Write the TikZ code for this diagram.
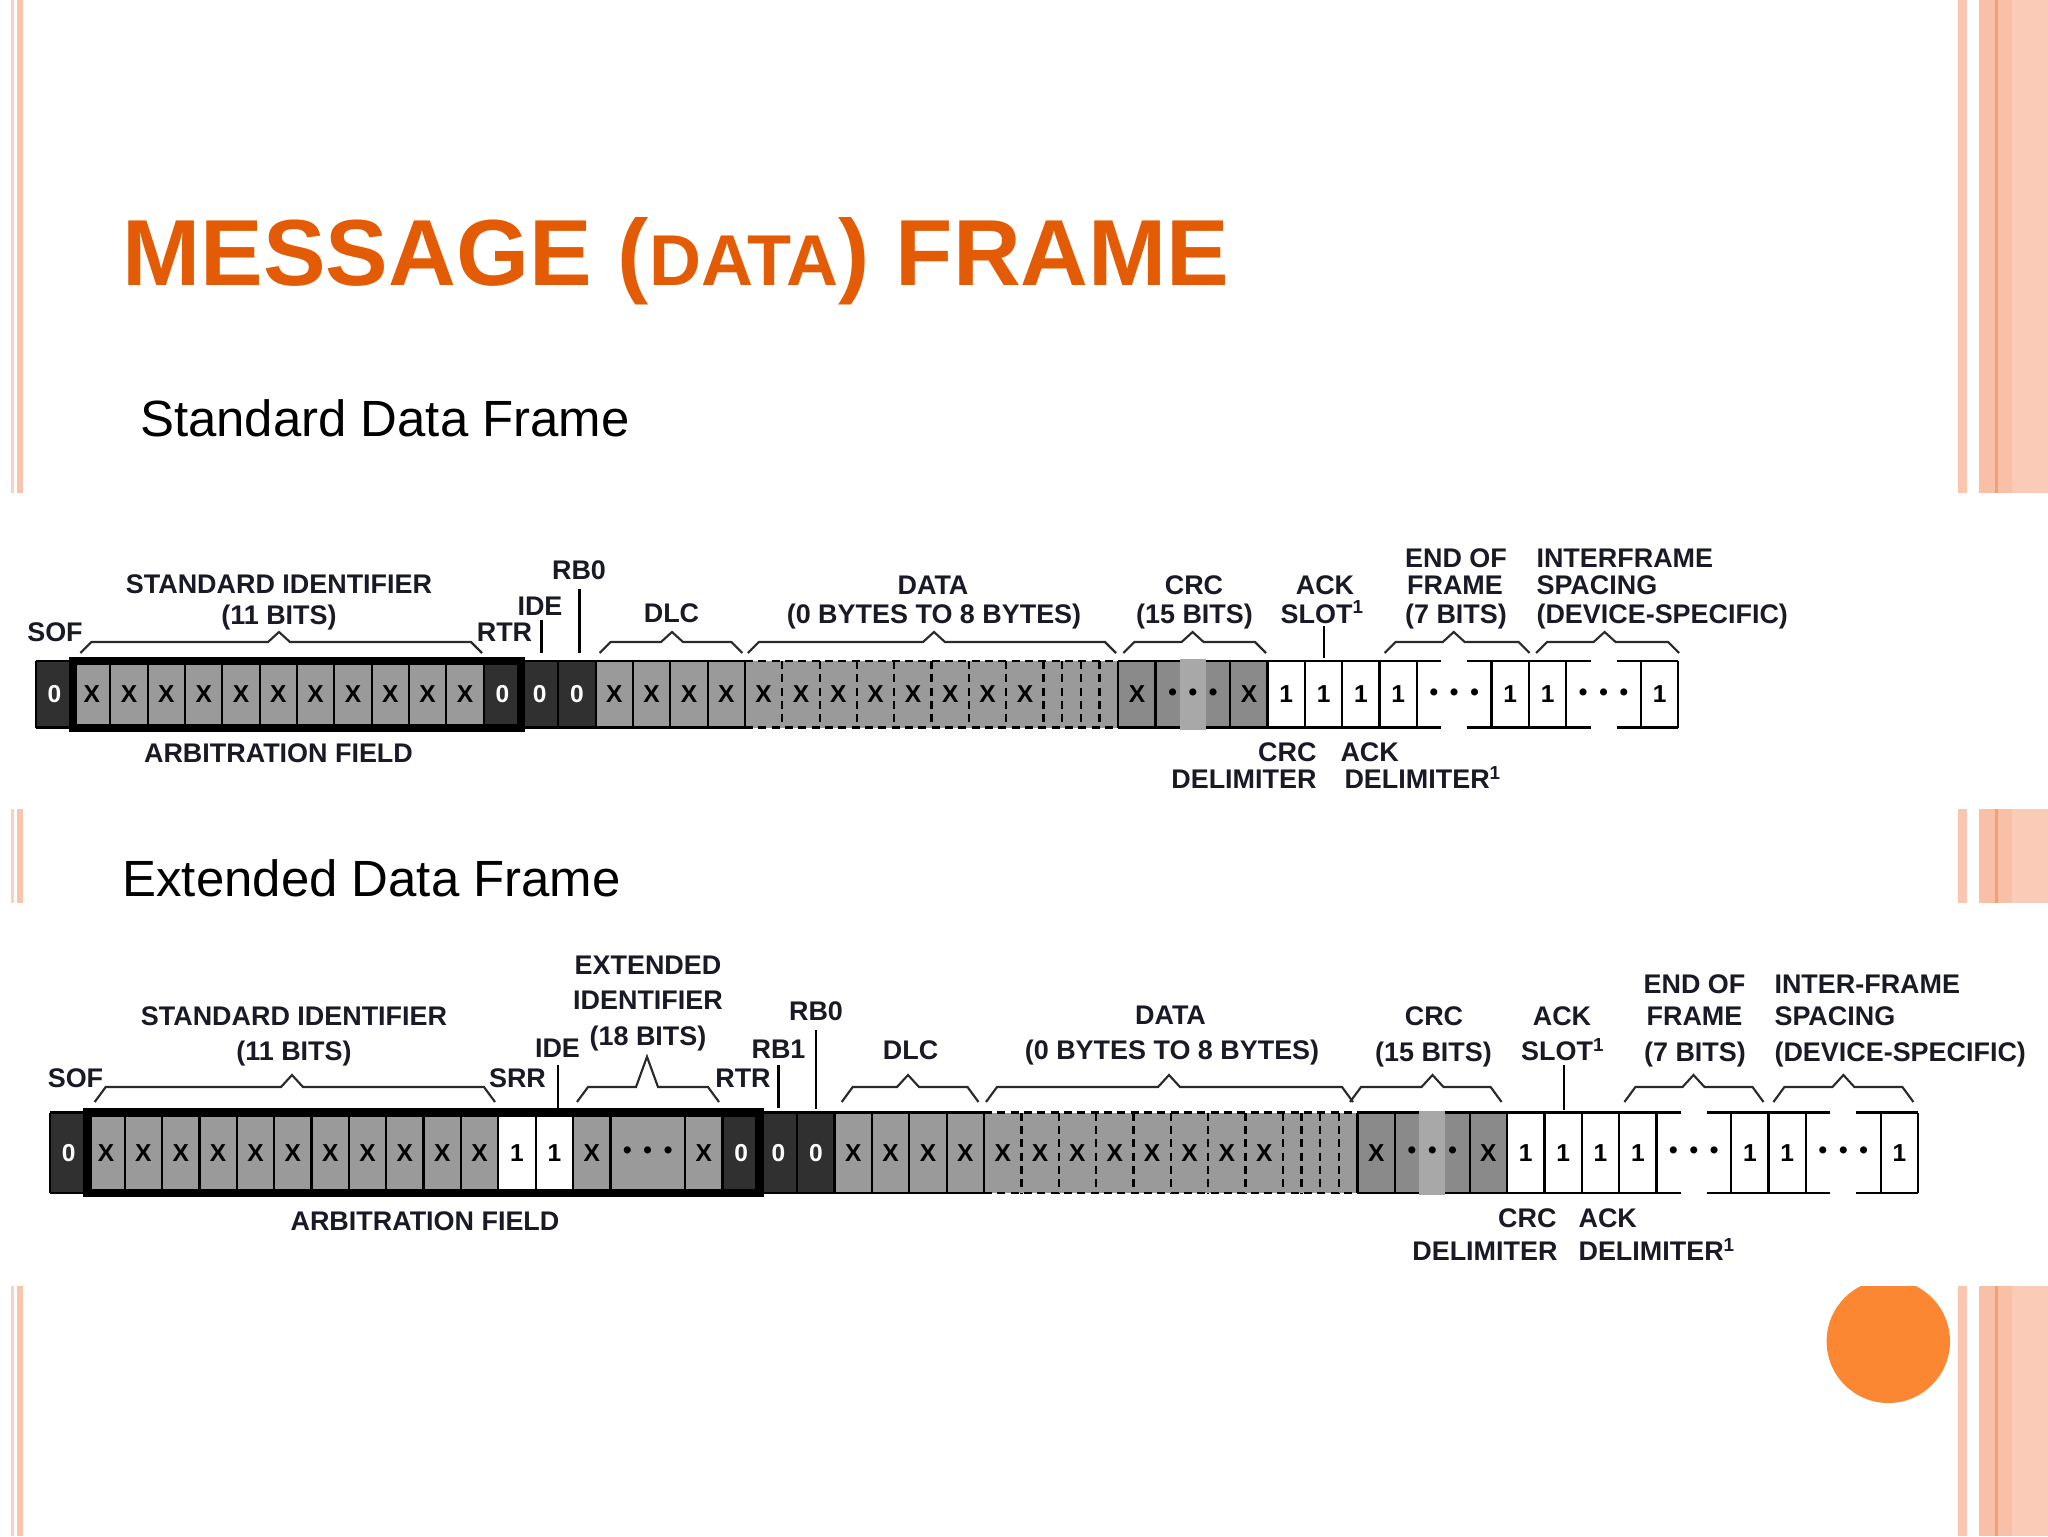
\documentclass[tikz,border=0pt]{standalone}
\usepackage{fontspec}
\setmainfont{Liberation Sans}
\definecolor{ttl}{HTML}{E35C05}
\definecolor{stripeL}{HTML}{FBD0C0}
\definecolor{stripeL2}{HTML}{F9C3AC}
\definecolor{stripeA}{HTML}{FAC6B0}
\definecolor{stripeB}{HTML}{F9C0A8}
\definecolor{stripeC}{HTML}{F4A070}
\definecolor{stripeD}{HTML}{FACBB7}
\definecolor{orng}{HTML}{FB8733}
\definecolor{dk}{HTML}{303030}
\definecolor{gy}{HTML}{9A9A9A}
\definecolor{gytwo}{HTML}{8A8A8A}
\definecolor{gylt}{HTML}{A8A8A8}
\definecolor{lblc}{HTML}{1A1A26}
\definecolor{brcc}{HTML}{2A2A2A}
\newcommand\bdots{•\hspace{4.4pt}•\hspace{4.4pt}•}
\newcommand\mybrace[6]{\draw[brc] (#1,#4) -- ({#1+11},#5) -- ({#3-11},#5) -- (#3,#6) -- ({#3+11},#5) -- ({#2-11},#5) -- (#2,#4);}
\begin{document}
\begin{tikzpicture}[x=0.375pt,y=-0.375pt,
  lbl/.style={font=\fontsize{10.1}{12}\selectfont\bfseries, text=lblc, inner sep=0pt, text height=7.3pt, text depth=0pt},
  bit/.style={font=\fontsize{9.2}{10}\selectfont\bfseries, inner sep=0pt},
  brc/.style={draw=brcc, line width=0.8pt, line join=miter},
  sep/.style={draw=black, line width=0.85pt},
  dsep/.style={sep, dash pattern=on 3pt off 2pt},
  frm/.style={draw=black, line width=3pt},
  ptr/.style={draw=black, line width=0.8pt}]
\useasboundingbox (0,0) rectangle (2048,1536);
\fill[white] (0,0) rectangle (2048,1536);
% decorative stripes
\foreach \ya/\yb in {0/493, 809/903, 1286/1536} {
  \fill[stripeL] (11,\ya) rectangle (14,\yb);
  \fill[stripeL2] (16.5,\ya) rectangle (23.2,\yb);
  \fill[stripeA] (1958,\ya) rectangle (1967,\yb);
  \fill[stripeB] (1979,\ya) rectangle (2048,\yb);
  \fill[stripeD] (2012,\ya) rectangle (2048,\yb);
  \fill[stripeC] (1995,\ya) rectangle (1998,\yb);
}
\begin{scope}
  \clip (1800,1286) rectangle (1960,1420);
  \fill[orng] (1888.3,1341.3) circle (61.7);
\end{scope}
% titles
\node[anchor=base west, inner sep=0pt, text=ttl, font=\fontsize{35.2}{40}\selectfont\bfseries] (title) at (122,285) {MESSAGE ({\fontsize{27}{30}\selectfont DATA}) FRAME};
\node[anchor=base west, inner sep=0pt, font=\fontsize{19.1}{22}\selectfont] (sub1) at (139.5,436) {Standard Data Frame};
\node[anchor=base west, inner sep=0pt, font=\fontsize{19.1}{22}\selectfont] (sub2) at (122,896.7) {Extended Data Frame};

% ================= STANDARD FRAME =================
\def\SX{35.7}\def\SW{37.33}\def\ST{661}\def\SB{727.5}
\fill[dk] (\SX,\ST) rectangle ({\SX+1*\SW},\SB);
\fill[gy] ({\SX+1*\SW},\ST) rectangle ({\SX+12*\SW},\SB);
\fill[dk] ({\SX+12*\SW},\ST) rectangle ({\SX+15*\SW},\SB);
\fill[gy] ({\SX+15*\SW},\ST) rectangle ({\SX+29*\SW},\SB);
\fill[gytwo] ({\SX+29*\SW},\ST) rectangle ({\SX+33*\SW},\SB);
\fill[gylt] ({\SX+31*\SW-13},{\ST-2}) rectangle ({\SX+31*\SW+13},{\SB+2});
\fill[white] ({\SX+33*\SW},\ST) rectangle ({\SX+44*\SW},\SB);
% verticals
\foreach \i in {0,...,19,29,30,32,33,34,35,36,37,39,40,41,43,44}
  \draw[sep] ({\SX+\i*\SW},\ST) -- ({\SX+\i*\SW},\SB);
\foreach \i in {20,...,27,27.5,28,28.5}
  \draw[dsep] ({\SX+\i*\SW},\ST) -- ({\SX+\i*\SW},\SB);
% top / bottom
\foreach \y in {\ST,\SB} {
  \draw[sep] (\SX,\y) -- ({\SX+19*\SW},\y);
  \draw[dsep] ({\SX+19*\SW},\y) -- ({\SX+29*\SW},\y);
  \draw[sep] ({\SX+29*\SW},\y) -- ({\SX+31*\SW-13},\y);
  \draw[sep] ({\SX+31*\SW+13},\y) -- ({\SX+38*\SW-13},\y);
  \draw[sep] ({\SX+38*\SW+13},\y) -- ({\SX+42*\SW-13},\y);
  \draw[sep] ({\SX+42*\SW+13},\y) -- ({\SX+44*\SW},\y);
}
\draw[frm] ({\SX+1*\SW},\ST) rectangle ({\SX+13*\SW},\SB);
% bit texts
\foreach \p/\t/\c [count=\k] in {0.5/0/white, 1.5/X/black, 2.5/X/black, 3.5/X/black, 4.5/X/black, 5.5/X/black, 6.5/X/black, 7.5/X/black, 8.5/X/black, 9.5/X/black, 10.5/X/black, 11.5/X/black, 12.5/0/white, 13.5/0/white, 14.5/0/white, 15.5/X/black, 16.5/X/black, 17.5/X/black, 18.5/X/black, 19.5/X/black, 20.5/X/black, 21.5/X/black, 22.5/X/black, 23.5/X/black, 24.5/X/black, 25.5/X/black, 26.5/X/black, 29.5/X/black, 31/\bdots/black, 32.5/X/black, 33.5/1/black, 34.5/1/black, 35.5/1/black, 36.5/1/black, 38/\bdots/black, 39.5/1/black, 40.5/1/black, 42/\bdots/black, 43.5/1/black}
  \node[bit, text=\c] (sb\k) at ({\SX+\p*\SW},694.3) {\t};
% braces
\mybrace{80.4}{482}{279}{653}{642}{632}
\mybrace{599.6}{742.4}{672}{653}{642}{632}
\mybrace{747.8}{1116}{934}{653}{642}{632}
\mybrace{1123.4}{1266}{1192.6}{653}{642}{632}
\mybrace{1384.5}{1529.6}{1453.75}{653}{642}{632}
\mybrace{1536}{1679}{1604.6}{653}{642}{632}
% labels
\node[lbl] (sSOF) at (55,632) {SOF};
\node[lbl] (sSID1) at (279,584) {STANDARD IDENTIFIER};
\node[lbl] (sSID2) at (279,614.5) {(11 BITS)};
\node[lbl] (sRTR) at (504.5,632) {RTR};
\node[lbl] (sIDE) at (540,605.5) {IDE};
\node[lbl] (sRB0) at (579,569.5) {RB0};
\node[lbl] (sDLC) at (671.5,613) {DLC};
\node[lbl] (sDAT1) at (933,584.5) {DATA};
\node[lbl] (sDAT2) at (934,614) {(0 BYTES TO 8 BYTES)};
\node[lbl] (sCRC1) at (1194,585) {CRC};
\node[lbl] (sCRC2) at (1194.5,613.5) {(15 BITS)};
\node[lbl] (sACK1) at (1325,585) {ACK};
\node[lbl] (sACK2) at (1322.5,613.5) {SLOT\textsuperscript{1}};
\node[lbl] (sEOF1) at (1456,557.5) {END OF};
\node[lbl] (sEOF2) at (1455,585) {FRAME};
\node[lbl] (sEOF3) at (1456,613.5) {(7 BITS)};
\node[lbl, anchor=west] (sIFS1) at (1536,557.5) {INTERFRAME};
\node[lbl, anchor=west] (sIFS2) at (1536,585) {SPACING};
\node[lbl, anchor=west] (sIFS3) at (1536,613.5) {(DEVICE-SPECIFIC)};
\node[lbl, anchor=east] (sCD1) at (1317,751.5) {CRC};
\node[lbl, anchor=east] (sCD2) at (1317,779) {DELIMITER};
\node[lbl, anchor=west] (sAD1) at (1340,751.5) {ACK};
\node[lbl, anchor=west] (sAD2) at (1344,779) {DELIMITER\textsuperscript{1}};
\node[lbl] (sARB) at (278.5,752.5) {ARBITRATION FIELD};
% pointers
\coordinate (psIDE) at (541.5,653);
\coordinate (psRB0) at (579.5,653);
\coordinate (psACK) at (1324,658);
\draw[ptr] (psIDE |- sIDE.south) ++(0,4) -- (psIDE);
\draw[ptr] (psRB0 |- sRB0.south) ++(0,9) -- (psRB0);
\draw[ptr] (psACK |- sACK2.south) ++(0,2) -- (psACK);

% ================= EXTENDED FRAME =================
\def\EX{50}\def\EW{37.36}\def\ET{1112.5}\def\EB{1193}
\fill[dk] (\EX,\ET) rectangle ({\EX+1*\EW},\EB);
\fill[gy] ({\EX+1*\EW},\ET) rectangle ({\EX+12*\EW},\EB);
\fill[white] ({\EX+12*\EW},\ET) rectangle ({\EX+14*\EW},\EB);
\fill[gy] ({\EX+14*\EW},\ET) rectangle ({\EX+18*\EW},\EB);
\fill[dk] ({\EX+18*\EW},\ET) rectangle ({\EX+21*\EW},\EB);
\fill[gy] ({\EX+21*\EW},\ET) rectangle ({\EX+35*\EW},\EB);
\fill[gytwo] ({\EX+35*\EW},\ET) rectangle ({\EX+39*\EW},\EB);
\fill[gylt] ({\EX+37*\EW-13},{\ET-2}) rectangle ({\EX+37*\EW+13},{\EB+2});
\fill[white] ({\EX+39*\EW},\ET) rectangle ({\EX+50*\EW},\EB);
\foreach \i in {0,...,15,17,18,...,25,35,36,38,39,40,41,42,43,45,46,47,49,50}
  \draw[sep] ({\EX+\i*\EW},\ET) -- ({\EX+\i*\EW},\EB);
\foreach \i in {26,...,33,33.5,34,34.5}
  \draw[dsep] ({\EX+\i*\EW},\ET) -- ({\EX+\i*\EW},\EB);
\foreach \y in {\ET,\EB} {
  \draw[sep] (\EX,\y) -- ({\EX+25*\EW},\y);
  \draw[dsep] ({\EX+25*\EW},\y) -- ({\EX+35*\EW},\y);
  \draw[sep] ({\EX+35*\EW},\y) -- ({\EX+37*\EW-13},\y);
  \draw[sep] ({\EX+37*\EW+13},\y) -- ({\EX+44*\EW-13},\y);
  \draw[sep] ({\EX+44*\EW+13},\y) -- ({\EX+48*\EW-13},\y);
  \draw[sep] ({\EX+48*\EW+13},\y) -- ({\EX+50*\EW},\y);
}
\draw[frm, line width=3.3pt] ({\EX+1*\EW},\ET) rectangle ({\EX+19*\EW},\EB);
\foreach \p/\t/\c [count=\k] in {0.5/0/white, 1.5/X/black, 2.5/X/black, 3.5/X/black, 4.5/X/black, 5.5/X/black, 6.5/X/black, 7.5/X/black, 8.5/X/black, 9.5/X/black, 10.5/X/black, 11.5/X/black, 12.5/1/black, 13.5/1/black, 14.5/X/black, 16/\bdots/black, 17.5/X/black, 18.5/0/white, 19.5/0/white, 20.5/0/white, 21.5/X/black, 22.5/X/black, 23.5/X/black, 24.5/X/black, 25.5/X/black, 26.5/X/black, 27.5/X/black, 28.5/X/black, 29.5/X/black, 30.5/X/black, 31.5/X/black, 32.5/X/black, 35.5/X/black, 37/\bdots/black, 38.5/X/black, 39.5/1/black, 40.5/1/black, 41.5/1/black, 42.5/1/black, 44/\bdots/black, 45.5/1/black, 46.5/1/black, 48/\bdots/black, 49.5/1/black}
  \node[bit, text=\c] (eb\k) at ({\EX+\p*\EW},1153) {\t};
% braces
\mybrace{94.7}{495}{292}{1102}{1087}{1075}
\mybrace{577}{719}{647}{1102}{1087}{1056.7}
\mybrace{841.7}{978.5}{908}{1102}{1087}{1075}
\mybrace{986}{1353}{1169}{1102}{1087}{1075}
\mybrace{1350}{1501.6}{1432.5}{1102}{1087}{1075}
\mybrace{1624.4}{1763.5}{1693.5}{1102}{1087}{1075}
\mybrace{1773.4}{1913.4}{1843.4}{1102}{1087}{1075}
% labels
\node[lbl] (eSOF) at (75.5,1078) {SOF};
\node[lbl] (eSID1) at (294,1016) {STANDARD IDENTIFIER};
\node[lbl] (eSID2) at (294,1051) {(11 BITS)};
\node[lbl] (eSRR) at (517.5,1077.5) {SRR};
\node[lbl] (eIDE) at (557.5,1047.5) {IDE};
\node[lbl] (eEXT1) at (648,965) {EXTENDED};
\node[lbl] (eEXT2) at (648,1000) {IDENTIFIER};
\node[lbl] (eEXT3) at (648,1035.5) {(18 BITS)};
\node[lbl] (eRTR) at (743,1077.5) {RTR};
\node[lbl] (eRB1) at (778.5,1049) {RB1};
\node[lbl] (eRB0) at (816,1011) {RB0};
\node[lbl] (eDLC) at (910.6,1050) {DLC};
\node[lbl] (eDAT1) at (1170.5,1015) {DATA};
\node[lbl] (eDAT2) at (1172,1050) {(0 BYTES TO 8 BYTES)};
\node[lbl] (eCRC1) at (1434,1016) {CRC};
\node[lbl] (eCRC2) at (1433.5,1052) {(15 BITS)};
\node[lbl] (eACK1) at (1562,1016) {ACK};
\node[lbl] (eACK2) at (1563,1051) {SLOT\textsuperscript{1}};
\node[lbl] (eEOF1) at (1694.5,984) {END OF};
\node[lbl] (eEOF2) at (1694.5,1015.5) {FRAME};
\node[lbl] (eEOF3) at (1695,1052) {(7 BITS)};
\node[lbl, anchor=west] (eIFS1) at (1774,984) {INTER-FRAME};
\node[lbl, anchor=west] (eIFS2) at (1774,1015.5) {SPACING};
\node[lbl, anchor=west] (eIFS3) at (1774,1052) {(DEVICE-SPECIFIC)};
\node[lbl, anchor=east] (eCD1) at (1557,1218) {CRC};
\node[lbl, anchor=east] (eCD2) at (1558,1251) {DELIMITER};
\node[lbl, anchor=west] (eAD1) at (1578,1218) {ACK};
\node[lbl, anchor=west] (eAD2) at (1578,1251) {DELIMITER\textsuperscript{1}};
\node[lbl] (eARB) at (425,1221) {ARBITRATION FIELD};
% pointers
\coordinate (peIDE) at (558,1109);
\coordinate (peRB1) at (778.5,1108);
\coordinate (peRB0) at (816,1109);
\coordinate (peACK) at (1564,1110);
\draw[ptr] (peIDE |- eIDE.south) ++(0,7) -- (peIDE);
\draw[ptr] (peRB1 |- eRB1.south) ++(0,6) -- (peRB1);
\draw[ptr] (peRB0 |- eRB0.south) ++(0,9) -- (peRB0);
\draw[ptr] (peACK |- eACK2.south) ++(0,4) -- (peACK);
\end{tikzpicture}
\end{document}
